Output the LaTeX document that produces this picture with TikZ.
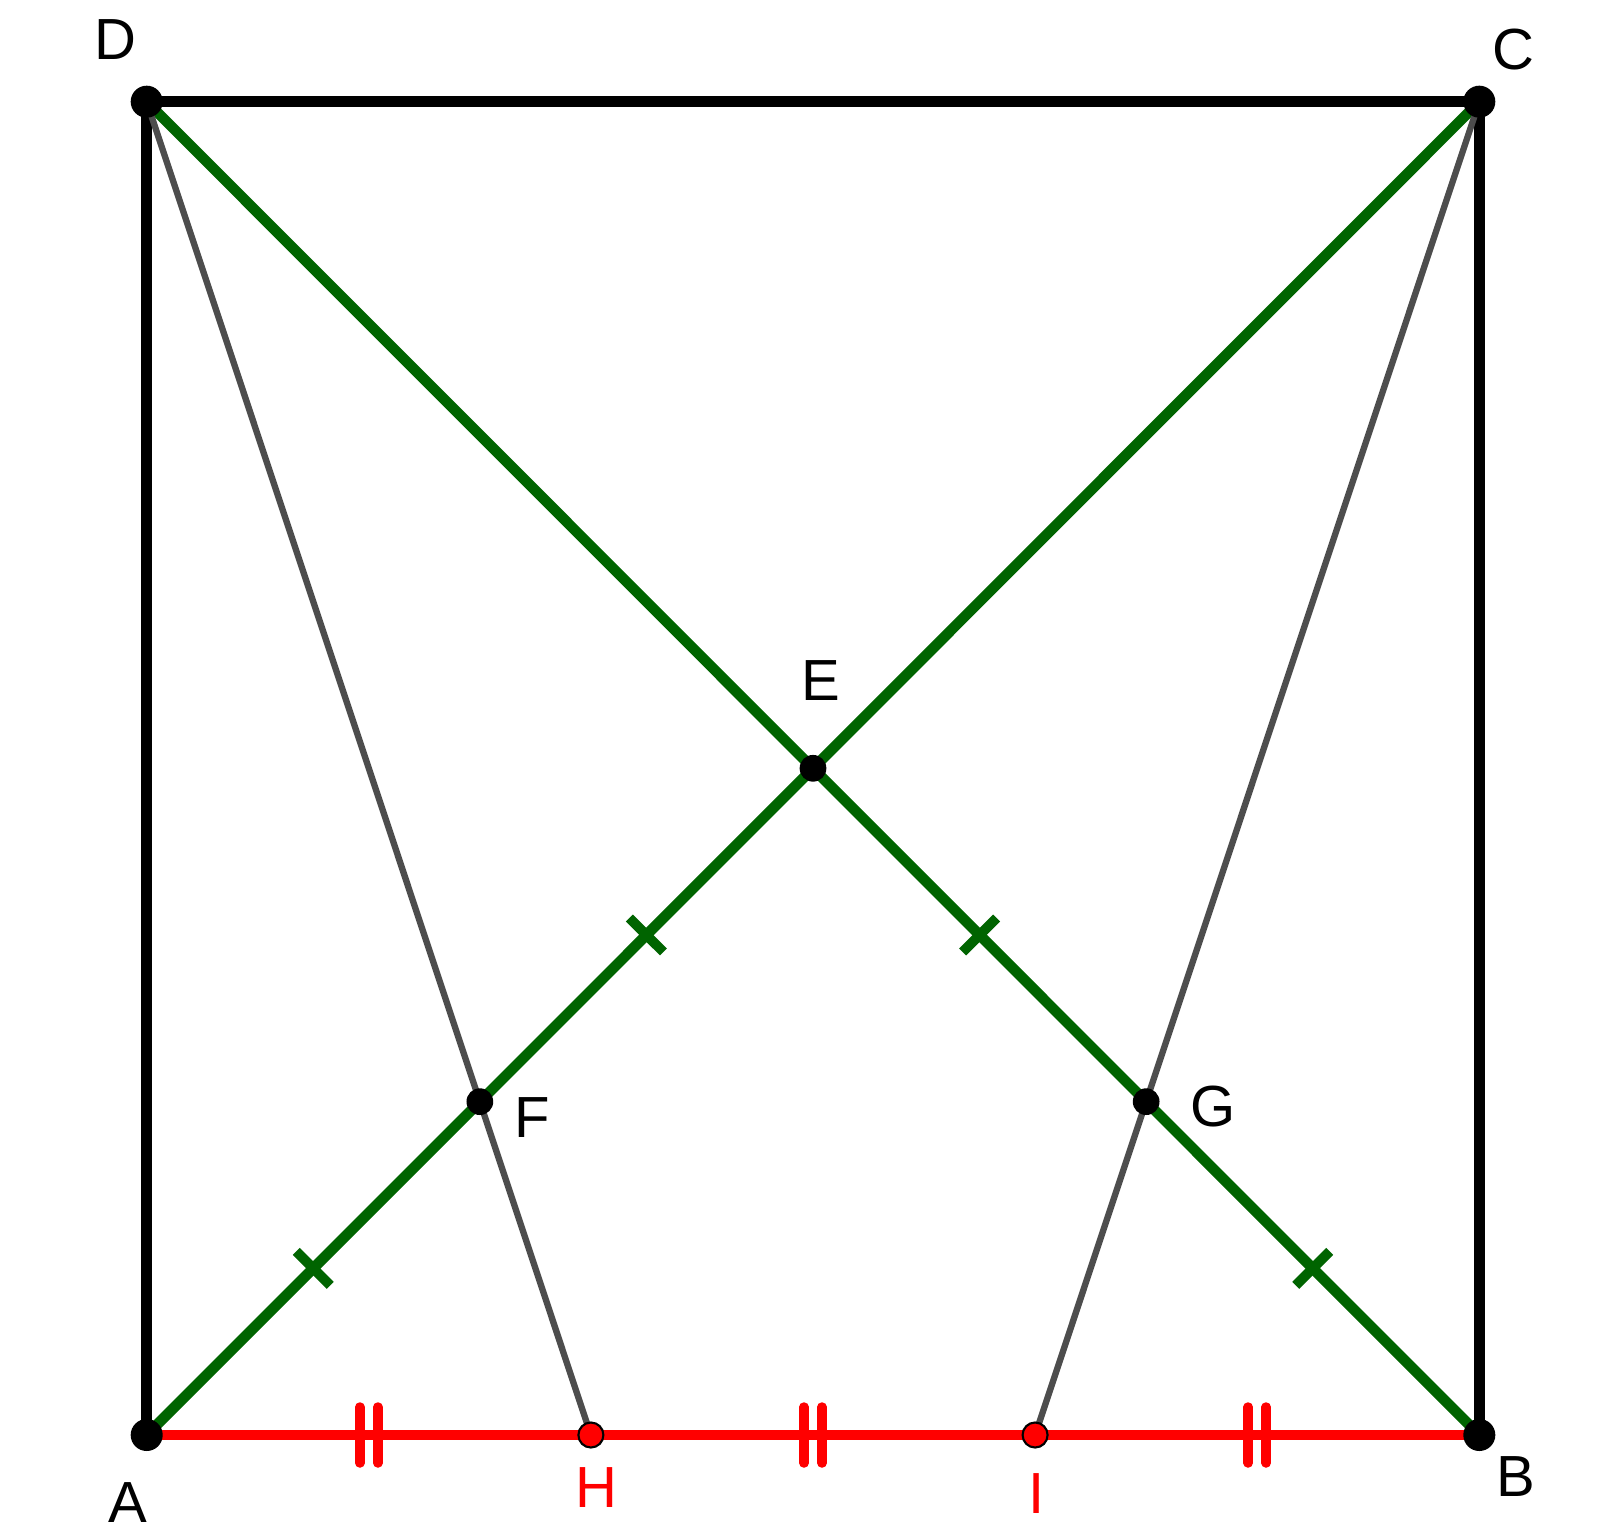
\documentclass[tikz,border=0pt]{standalone}
\usepackage{fontspec}
\setmainfont{Liberation Sans}
\usetikzlibrary{calc}
\definecolor{dgreen}{RGB}{0,100,0}
\definecolor{segray}{RGB}{77,77,77}
\tikzset{
  side/.style={line width=3.1pt,black},
  diag/.style={line width=3pt,dgreen},
  cev/.style={line width=1.8pt,segray},
  base/.style={line width=2.6pt,red},
  gtick/.style={line width=2.8pt,dgreen},
  rtick/.style={line width=2.7pt,red,line cap=round},
  bigdot/.style={circle,fill=black,inner sep=0pt,minimum size=0.32cm},
  middot/.style={circle,fill=black,inner sep=0pt,minimum size=0.267cm},
  reddot/.style={circle,fill=red,draw=black,line width=0.6pt,inner sep=0pt,minimum size=0.25cm},
  lbl/.style={font=\fontsize{16.5pt}{20pt}\selectfont,inner sep=0pt},
}
\begin{document}
\begin{tikzpicture}[x=0.01cm,y=-0.01cm]
\useasboundingbox (0,0) rectangle (1600,1540);
\coordinate (A) at (146.7,1435);
\coordinate (B) at (1479.3,1435);
\coordinate (C) at (1479.3,101.7);
\coordinate (D) at (146.7,101.7);
\coordinate (E) at (813,768.3);
\coordinate (F) at ($(A)!0.5!(E)$);
\coordinate (G) at ($(E)!0.5!(B)$);
\coordinate (H) at ($(A)!1/3!(B)$);
\coordinate (I) at ($(A)!2/3!(B)$);
% square sides
\draw[side] (D) -- (C);
\draw[side] (D) -- (A);
\draw[side] (C) -- (B);
% diagonals
\draw[diag] (A) -- (C);
\draw[diag] (D) -- (B);
% cevians
\draw[cev] (D) -- (H);
\draw[cev] (C) -- (I);
% base
\draw[base] (A) -- (B);
% green ticks
\foreach \P/\Q [count=\k] in {A/F,F/E,E/G,G/B}{
  \coordinate (m\k) at ($(\P)!0.5!(\Q)$);
  \draw[gtick] ($(m\k)!0.24cm!90:(\Q)$) -- ($(m\k)!0.24cm!-90:(\Q)$);
}
% red double ticks
\foreach \P/\Q [count=\k] in {A/H,H/I,I/B}{
  \coordinate (r\k) at ($(\P)!0.5!(\Q)$);
  \draw[rtick] ($(r\k)+(-9,-28)$) -- ($(r\k)+(-9,28)$);
  \draw[rtick] ($(r\k)+(9,-28)$) -- ($(r\k)+(9,28)$);
}
% points
\node[bigdot] (pA) at (A) {};
\node[bigdot] (pB) at (B) {};
\node[bigdot] (pC) at (C) {};
\node[bigdot] (pD) at (D) {};
\node[middot] (pE) at (E) {};
\node[middot] (pF) at (F) {};
\node[middot] (pG) at (G) {};
\node[reddot] (pH) at (H) {};
\node[reddot] (pI) at (I) {};
% labels
\node[lbl] (lD) at (115,40) {D};
\node[lbl] (lC) at (1513,50) {C};
\node[lbl] (lA) at (128,1503) {A};
\node[lbl] (lB) at (1516,1477) {B};
\node[lbl] (lE) at (821,681) {E};
\node[lbl] (lF) at (532,1118) {F};
\node[lbl] (lG) at (1213,1107) {G};
\node[lbl,text=red] (lH) at (596,1488) {H};
\node[lbl,text=red] (lI) at (1037,1494) {I};
\end{tikzpicture}
\end{document}
